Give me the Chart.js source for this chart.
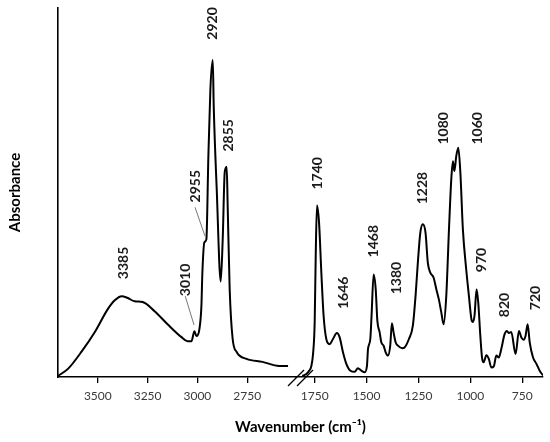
<!DOCTYPE html>
<html>
<head>
<meta charset="utf-8">
<title>FTIR spectrum</title>
<script src="https://cdn.jsdelivr.net/npm/chart.js@4.4.1/dist/chart.umd.min.js"></script>
<style>
    html, body { margin: 0; padding: 0; background: #fff; }
    #wrap { width: 550px; height: 442px; position: relative; }
</style>
</head>
<body>
<div id="wrap"><canvas id="spectrum"></canvas></div>
<script>
"use strict";

// High wavenumber part of the spectrum (left of the axis break)
const highWavenumber = [3700, 3650, 3580, 3515, 3450, 3415, 3380, 3350, 3315, 3275, 3215, 3150, 3080, 3050,
    3030, 3015, 3005, 2990, 2980, 2975, 2965, 2955, 2945, 2935, 2923, 2918, 2903, 2883, 2873, 2863, 2853,
    2848, 2838, 2823, 2803, 2753, 2673, 2590, 2545];
const highAbsorbance = [0.003, 0.022, 0.070, 0.122, 0.184, 0.208, 0.219, 0.214, 0.205, 0.203, 0.178, 0.143, 0.108, 0.097,
    0.097, 0.124, 0.111, 0.130, 0.192, 0.284, 0.365, 0.373, 0.597, 0.778, 0.859, 0.732, 0.508, 0.259, 0.373, 0.554, 0.570,
    0.462, 0.238, 0.103, 0.068, 0.049, 0.041, 0.030, 0.030];

// Fingerprint part of the spectrum (right of the axis break)
const lowWavenumber = [1810, 1790, 1775, 1766, 1758, 1750, 1745, 1739, 1729, 1718, 1707, 1694, 1678, 1662, 1643, 1630,
    1614, 1597, 1578, 1557, 1542, 1525, 1509, 1498, 1493, 1482, 1476, 1466, 1456, 1448, 1437, 1429, 1418, 1408, 1397,
    1386, 1378, 1370, 1360, 1349, 1328, 1317, 1296, 1277, 1264, 1253, 1241, 1229, 1216, 1205, 1193, 1177, 1164, 1152,
    1140, 1129, 1116, 1103, 1092, 1084, 1077, 1068, 1058, 1048, 1036, 1020, 1007, 995, 988, 980, 970, 962, 952, 943,
    936, 923, 911, 899, 887, 875, 863, 851, 835, 824, 814, 803, 782, 766, 754, 743, 734, 724, 714, 698, 681, 666, 650];
const lowAbsorbance = [0.003, 0.008, 0.018, 0.030, 0.062, 0.149, 0.328, 0.465, 0.419, 0.284, 0.166, 0.103, 0.089, 0.103, 0.119, 0.108,
    0.068, 0.035, 0.017, 0.014, 0.024, 0.017, 0.013, 0.031, 0.076, 0.103, 0.166, 0.278, 0.238, 0.152, 0.121, 0.094, 0.085, 0.067, 0.058,
    0.085, 0.146, 0.121, 0.094, 0.085, 0.078, 0.080, 0.103, 0.139, 0.220, 0.310, 0.391, 0.414, 0.391, 0.310, 0.283, 0.269, 0.238, 0.211,
    0.175, 0.143, 0.220, 0.400, 0.535, 0.585, 0.558, 0.598, 0.621, 0.553, 0.400, 0.292, 0.220, 0.157, 0.149, 0.166, 0.238, 0.202, 0.112, 0.049,
    0.040, 0.059, 0.049, 0.026, 0.029, 0.058, 0.053, 0.076, 0.116, 0.125, 0.119, 0.122, 0.062, 0.125, 0.107, 0.101, 0.112, 0.143, 0.094, 0.053, 0.035, 0.017, 0.004];

// Axis ranges and ticks
const highRange = [2505, 3700];
const lowRange = [650, 1840];
const highTicks = [3500, 3250, 3000, 2750];
const lowTicks = [1750, 1500, 1250, 1000, 750];

// Peak labels: text, wavenumber and absorbance where the (rotated) text starts
const peakText = ['3385', '3010', '2955', '2920', '2855', '1740', '1646', '1468', '1380', '1228', '1080', '1060', '970', '820', '720'];
const peakTextWn = [3372, 3062, 3012, 2922, 2842, 1736, 1611, 1466, 1356, 1231, 1130, 966, 947, 837, 687];
const peakTextAbs = [0.265, 0.219, 0.473, 0.914, 0.611, 0.508, 0.184, 0.324, 0.224, 0.468, 0.630, 0.630, 0.284, 0.162, 0.181];

// Leader lines for the small bands: [wavenumber, absorbance] from band to label
const leaderFrom = [[3017, 0.141], [2962, 0.382]];
const leaderTo = [[3061, 0.219], [3012, 0.460]];

const fontFamily = 'Lato, "Open Sans", sans-serif';

var InitSpectrum = function () {
    const toPoints = (xs, ys) => xs.map((x, i) => ({ x: x, y: ys[i] }));

    const scaleFor = (chart, wn) => wn > 2000 ? chart.scales.xHigh : chart.scales.xLow;

    // rotated band labels and their leader lines
    const peakLabelPlugin = {
        id: 'peakLabels',
        afterDatasetsDraw(chart) {
            const ctx = chart.ctx;
            const y = chart.scales.y;

            ctx.save();
            ctx.strokeStyle = '#555';
            ctx.lineWidth = 0.8;
            leaderFrom.forEach((p, i) => {
                const q = leaderTo[i];
                ctx.beginPath();
                ctx.moveTo(scaleFor(chart, p[0]).getPixelForValue(p[0]), y.getPixelForValue(p[1]));
                ctx.lineTo(scaleFor(chart, q[0]).getPixelForValue(q[0]), y.getPixelForValue(q[1]));
                ctx.stroke();
            });

            ctx.fillStyle = '#1a1a1a';
            ctx.font = 'bold 14px ' + fontFamily;
            ctx.textAlign = 'left';
            ctx.textBaseline = 'middle';
            peakText.forEach((t, i) => {
                const px = scaleFor(chart, peakTextWn[i]).getPixelForValue(peakTextWn[i]);
                const py = y.getPixelForValue(peakTextAbs[i]);
                ctx.save();
                ctx.translate(px, py);
                ctx.rotate(-Math.PI / 2);
                ctx.fillText(t, 0, 0);
                ctx.restore();
            });
            ctx.restore();
        }
    };

    // the // marks on the broken x axis
    const axisBreakPlugin = {
        id: 'axisBreak',
        afterDraw(chart) {
            const ctx = chart.ctx;
            const bx = chart.scales.xHigh.right;
            const by = chart.scales.xHigh.top;
            ctx.save();
            ctx.strokeStyle = '#000';
            ctx.lineWidth = 1.3;
            [-8, 1].forEach(dx => {
                ctx.beginPath();
                ctx.moveTo(bx + dx, by + 9);
                ctx.lineTo(bx + dx + 16, by - 7);
                ctx.stroke();
            });
            ctx.restore();
        }
    };

    const xAxis = (range, tickValues, weight) => ({
        type: 'linear',
        position: 'bottom',
        stack: 'wavenumber',
        stackWeight: weight,
        reverse: true,
        min: range[0],
        max: range[1],
        afterBuildTicks: (scale) => {
            scale.ticks = tickValues.map(v => ({ value: v }));
        },
        afterFit: (scale) => {
            scale.height = 26;
        },
        grid: {
            drawOnChartArea: false,
            drawTicks: true,
            tickLength: 6,
            color: '#000',
            lineWidth: 1.3
        },
        border: { display: true, color: '#000', width: 1.6 },
        ticks: {
            autoSkip: false,
            maxRotation: 0,
            padding: 6,
            color: '#3a3a3a',
            font: { family: fontFamily, size: 12 },
            callback: (value) => String(value)
        }
    });

    const lineDataset = (points, axisId) => ({
        data: points,
        xAxisID: axisId,
        yAxisID: 'y',
        borderColor: '#000',
        borderWidth: 2,
        pointRadius: 0,
        fill: false,
        cubicInterpolationMode: 'monotone'
    });

    var spectrumChart = function () {
        const chartElement = document.querySelector('#spectrum');
        if (!chartElement) {
            return;
        }

        var config = {
            type: 'line',
            data: {
                datasets: [
                    lineDataset(toPoints(highWavenumber, highAbsorbance), 'xHigh'),
                    lineDataset(toPoints(lowWavenumber, lowAbsorbance), 'xLow')
                ]
            },
            options: {
                responsive: true,
                maintainAspectRatio: false,
                animation: false,
                layout: { padding: { top: 8, right: 7, left: 0, bottom: 0 } },
                plugins: {
                    legend: { display: false },
                    tooltip: { enabled: false },
                    title: {
                        display: true,
                        position: 'bottom',
                        fullSize: false,
                        text: 'Wavenumber (cm\u207B\u00B9)',
                        color: '#000',
                        font: { family: fontFamily, size: 15, weight: 'bold' },
                        padding: { top: 15, bottom: 6 }
                    }
                },
                scales: {
                    xHigh: xAxis(highRange, highTicks, 238),
                    xLow: xAxis(lowRange, lowTicks, 247),
                    y: {
                        type: 'linear',
                        min: 0,
                        max: 1,
                        afterFit: (scale) => {
                            scale.width = 58;
                        },
                        grid: { display: false },
                        border: { display: true, color: '#000', width: 1.6 },
                        ticks: { display: false },
                        title: {
                            display: true,
                            text: 'Absorbance',
                            color: '#000',
                            font: { family: fontFamily, size: 15, weight: 'bold' },
                            padding: { top: 6, bottom: 0 }
                        }
                    }
                }
            },
            plugins: [peakLabelPlugin, axisBreakPlugin]
        };

        new Chart(chartElement.getContext('2d'), config);
    };

    return {
        init: function () {
            spectrumChart();
        }
    };
}();

document.addEventListener('DOMContentLoaded', function () {
    InitSpectrum.init();
});
</script>
</body>
</html>
